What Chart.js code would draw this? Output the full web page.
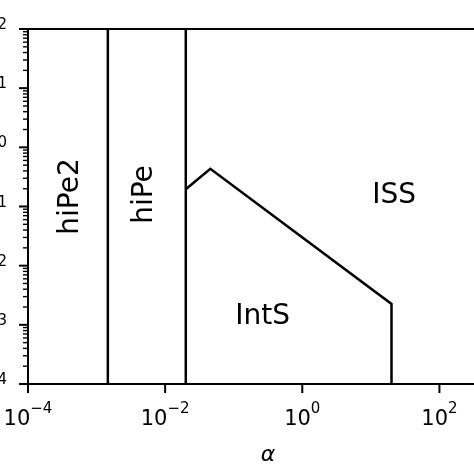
<!DOCTYPE html>
<html>
<head>
<meta charset="utf-8">
<script src="https://cdn.jsdelivr.net/npm/chart.js@4"></script>
<style>
  html, body { margin: 0; padding: 0; background: #fff; overflow: hidden; }
  #wrap { position: absolute; left: 0; top: 0; width: 560px; height: 474px; }
</style>
</head>
<body>
<div id="wrap"><canvas id="phaseChart" width="560" height="474"></canvas></div>
<script>
// boundary lines (alpha on x, second parameter on y)
const hiPe2LineX = [1.46e-3, 1.46e-3];
const hiPe2LineY = [1e-4, 1e2];
const hiPeLineX = [0.02, 0.02];
const hiPeLineY = [1e-4, 1e2];
const intSLineX = [0.02, 0.0456, 20, 20];
const intSLineY = [0.196, 0.433, 0.00225, 1e-4];

// region names and where they sit (data coords)
const regionNames = ['hiPe2', 'hiPe', 'ISS', 'IntS'];
const regionX = [5.36e-4, 6.34e-3, 21.8, 0.264];
const regionY = [0.1476, 0.1596, 0.1146, 1.03e-3];
const regionRotated = [true, true, false, false];

// tick exponents
const xTickExps = [-4, -3, -2, -1, 0, 1, 2, 3];
const xLabelExps = [-4, -2, 0, 2];
const yTickExps = [-4, -3, -2, -1, 0, 1, 2];

function pts(xs, ys) {
    return xs.map((x, i) => ({ x: x, y: ys[i] }));
}

const FONT = '"DejaVu Sans", sans-serif';

function expText(e) {
    return e < 0 ? '\u2212' + Math.abs(e) : String(e);
}

const axesPlugin = {
    id: 'axesPlugin',
    afterDraw(chart) {
        const ctx = chart.ctx;
        const a = chart.chartArea;
        const xs = chart.scales.x;
        const ys = chart.scales.y;
        ctx.save();
        ctx.strokeStyle = '#000';
        ctx.fillStyle = '#000';

        // frame
        ctx.lineWidth = 2;
        ctx.strokeRect(a.left, a.top, a.right - a.left, a.bottom - a.top);

        // x ticks (major only)
        ctx.lineWidth = 2;
        xTickExps.forEach(e => {
            const px = xs.getPixelForValue(Math.pow(10, e));
            if (xLabelExps.indexOf(e) < 0) return;
            ctx.beginPath();
            ctx.moveTo(px, a.bottom);
            ctx.lineTo(px, a.bottom + 9);
            ctx.stroke();
        });

        // y ticks: major + minor
        yTickExps.forEach(e => {
            const py = ys.getPixelForValue(Math.pow(10, e));
            ctx.lineWidth = 2;
            ctx.beginPath();
            ctx.moveTo(a.left, py);
            ctx.lineTo(a.left - 9, py);
            ctx.stroke();
            if (e < 2) {
                ctx.lineWidth = 1.4;
                for (let m = 2; m <= 9; m++) {
                    const my = ys.getPixelForValue(m * Math.pow(10, e));
                    ctx.beginPath();
                    ctx.moveTo(a.left, my);
                    ctx.lineTo(a.left - 5, my);
                    ctx.stroke();
                }
            }
        });

        // x tick labels 10^e
        ctx.textBaseline = 'alphabetic';
        ctx.textAlign = 'left';
        xLabelExps.forEach(e => {
            const px = xs.getPixelForValue(Math.pow(10, e));
            ctx.font = '21px ' + FONT;
            const wb = ctx.measureText('10').width;
            ctx.font = '15px ' + FONT;
            const we = ctx.measureText(expText(e)).width;
            const start = px - (wb + we) / 2;
            ctx.font = '21px ' + FONT;
            ctx.fillText('10', start, a.bottom + 41);
            ctx.font = '15px ' + FONT;
            ctx.fillText(expText(e), start + wb, a.bottom + 29);
        });

        // y tick labels (right aligned, mostly off page)
        yTickExps.forEach(e => {
            const py = ys.getPixelForValue(Math.pow(10, e));
            const right = a.left - 21;
            ctx.font = '15px ' + FONT;
            const we = ctx.measureText(expText(e)).width;
            ctx.fillText(expText(e), right - we, py);
            ctx.font = '21px ' + FONT;
            const wb = ctx.measureText('10').width;
            ctx.fillText('10', right - we - wb, py + 8);
        });

        // x axis title
        ctx.font = 'italic 22px ' + FONT;
        ctx.textAlign = 'center';
        ctx.fillText('\u03b1', (a.left + a.right) / 2, a.bottom + 77);

        // region names
        ctx.font = '28px ' + FONT;
        regionNames.forEach((name, i) => {
            const px = xs.getPixelForValue(regionX[i]);
            const py = ys.getPixelForValue(regionY[i]);
            ctx.save();
            ctx.translate(px, py);
            if (regionRotated[i]) ctx.rotate(-Math.PI / 2);
            ctx.textAlign = 'center';
            ctx.textBaseline = 'alphabetic';
            ctx.fillText(name, 0, 0);
            ctx.restore();
        });
        ctx.restore();
    }
};

const lineStyle = {
    borderColor: '#000',
    borderWidth: 2.5,
    pointRadius: 0,
    fill: false,
    tension: 0
};

new Chart(document.getElementById('phaseChart').getContext('2d'), {
    type: 'line',
    data: {
        datasets: [
            Object.assign({ label: 'hiPe2 boundary', data: pts(hiPe2LineX, hiPe2LineY) }, lineStyle),
            Object.assign({ label: 'hiPe boundary', data: pts(hiPeLineX, hiPeLineY) }, lineStyle),
            Object.assign({ label: 'IntS boundary', data: pts(intSLineX, intSLineY) }, lineStyle)
        ]
    },
    options: {
        responsive: false,
        animation: false,
        devicePixelRatio: 1,
        layout: { padding: { left: 28, top: 29, right: 52, bottom: 90 } },
        plugins: { legend: { display: false }, tooltip: { enabled: false } },
        scales: {
            x: { type: 'logarithmic', min: 1e-4, max: 1e3, display: false },
            y: { type: 'logarithmic', min: 1e-4, max: 1e2, display: false }
        }
    },
    plugins: [axesPlugin]
});
</script>
</body>
</html>
